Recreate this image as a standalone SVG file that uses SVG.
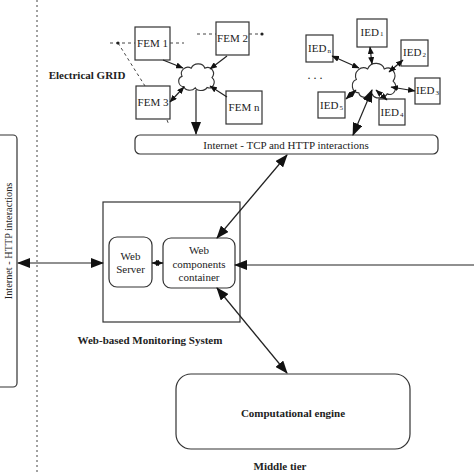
<svg xmlns="http://www.w3.org/2000/svg" xmlns:xlink="http://www.w3.org/1999/xlink" width="474" height="474" viewBox="0 0 474 474" font-family="'Liberation Serif', 'Times New Roman', serif">
<style>
  .box{fill:#fff;stroke:#333;stroke-width:1.2}
  text{font-family:'Liberation Serif','Times New Roman',serif}
  .t{font-size:11px;fill:#222;text-anchor:middle}
  .b{font-weight:bold}
  .ln{stroke:#222;stroke-width:1.2;fill:none}
  .dash{stroke:#444;stroke-width:1;stroke-dasharray:3,3;fill:none}
  .cloud{fill:#fff;stroke:#333}
</style>
<defs>
  <marker id="ah" markerUnits="userSpaceOnUse" markerWidth="14" markerHeight="10" refX="12" refY="5" orient="auto-start-reverse">
    <path d="M0,0 L13,5 L0,10 Z" fill="#111"/>
  </marker>
  <marker id="as" markerUnits="userSpaceOnUse" markerWidth="8" markerHeight="6" refX="7" refY="3" orient="auto-start-reverse">
    <path d="M0,0 L7.5,3 L0,6 Z" fill="#111"/>
  </marker>
  <path id="cl" d="M20,60 C5,60 2,40 15,35 C8,20 25,8 38,15 C45,0 68,2 72,15 C88,8 100,25 90,38 C102,48 92,68 78,62 C72,72 52,72 48,63 C40,72 22,70 20,60 Z"/>
</defs>

<!-- left dotted separator -->
<line x1="37" y1="0" x2="37" y2="474" stroke="#444" stroke-width="1" stroke-dasharray="2,3"/>

<g id="left-internet">
  <rect class="box" x="-6" y="135" width="23" height="252" rx="4"/>
  <text class="t" style="font-size:10.3px" transform="translate(12,241) rotate(-90)">Internet - HTTP interactions</text>
</g>

<g id="electrical-grid-label">
  <text class="t b" x="87" y="79">Electrical GRID</text>
</g>

<g id="cloud-fem">
  <use href="#cl" xlink:href="#cl" class="cloud" transform="translate(176,62) scale(0.4,0.41)" style="stroke-width:2.8"/>
</g>
<g id="cloud-ied">
  <use href="#cl" xlink:href="#cl" class="cloud" transform="translate(349,61) scale(0.49,0.53)" style="stroke-width:2.3"/>
</g>

<g id="fem1"><rect class="box" x="135" y="27" width="35" height="33"/><text class="t" x="152.5" y="47">FEM 1</text></g>
<g id="fem2"><rect class="box" x="216" y="22" width="33" height="33"/><text class="t" x="232.5" y="42">FEM 2</text></g>
<g id="fem3"><rect class="box" x="136" y="86" width="34" height="33"/><text class="t" x="153" y="106">FEM 3</text></g>
<g id="femn"><rect class="box" x="226" y="91" width="36" height="33"/><text class="t" x="244" y="111">FEM n</text></g>

<g id="ied1"><rect class="box" x="357" y="19" width="30" height="28"/><text class="t" x="372" y="36">IED<tspan font-size="7" dx="1">1</tspan></text></g>
<g id="ied2"><rect class="box" x="401" y="40" width="27" height="26"/><text class="t" x="414.5" y="56">IED<tspan font-size="7" dx="1" dy="1">2</tspan></text></g>
<g id="iedn"><rect class="box" x="306" y="35" width="27" height="27"/><text class="t" x="319.5" y="52">IED<tspan font-size="7" dx="1" dy="1">n</tspan></text></g>
<g id="ied3"><rect class="box" x="415" y="78" width="25" height="26"/><text class="t" x="427.5" y="94">IED<tspan font-size="7" dx="1" dy="1">3</tspan></text></g>
<g id="ied4"><rect class="box" x="379" y="99" width="26" height="26"/><text class="t" x="392" y="116">IED<tspan font-size="7" dx="1" dy="1">4</tspan></text></g>
<g id="ied5"><rect class="box" x="318" y="92" width="27" height="26"/><text class="t" x="331.5" y="109">IED<tspan font-size="7" dx="1" dy="1">5</tspan></text></g>
<g id="dots"><text class="t" x="315" y="79" style="font-size:12px">. . .</text></g>

<g id="internet-tcp">
  <rect class="box" x="135" y="135" width="303" height="19" rx="5"/>
  <text class="t" x="286" y="149">Internet - TCP and HTTP interactions</text>
</g>

<g id="wbms">
  <rect class="box" x="103" y="202" width="137" height="120"/>
  <text class="t b" x="150" y="344">Web-based Monitoring System</text>
</g>
<g id="web-server">
  <rect class="box" x="109" y="237" width="43" height="50" rx="8"/>
  <text class="t" x="130.5" y="260">Web</text>
  <text class="t" x="130.5" y="273">Server</text>
</g>
<g id="web-container">
  <rect class="box" x="163" y="238" width="72" height="50" rx="8"/>
  <text class="t" x="199" y="254">Web</text>
  <text class="t" x="199" y="268">components</text>
  <text class="t" x="199" y="281">container</text>
</g>

<g id="computational-engine">
  <rect class="box" x="176" y="374" width="234" height="75" rx="15"/>
  <text class="t b" x="293" y="417">Computational engine</text>
</g>
<g id="middle-tier-label">
  <text class="t b" x="280" y="470">Middle tier</text>
</g>

<g id="connectors">
  <!-- dashed grid lines -->
  <line class="dash" x1="110" y1="43" x2="135" y2="43"/>
  <line class="dash" x1="170" y1="43" x2="184" y2="43"/>
  <line class="dash" x1="118" y1="43" x2="145" y2="86"/>
  <circle cx="118" cy="43" r="1.6" fill="#222"/>
  <line class="dash" x1="167" y1="120" x2="169" y2="125"/>
  <line class="dash" x1="197" y1="34" x2="216" y2="34"/>
  <line class="dash" x1="249" y1="34" x2="262" y2="34"/>
  <circle cx="262" cy="34" r="1.6" fill="#222"/>

  <!-- FEM to cloud -->
  <line class="ln" x1="163" y1="60" x2="183" y2="68" marker-end="url(#as)"/>
  <line class="ln" x1="227" y1="56" x2="210" y2="69" marker-end="url(#as)"/>
  <line class="ln" x1="170" y1="102" x2="184" y2="87" marker-start="url(#as)" marker-end="url(#as)"/>
  <line class="ln" x1="227" y1="97" x2="210" y2="86" marker-end="url(#as)"/>
  <line class="ln" x1="196" y1="90" x2="196" y2="134" marker-end="url(#ah)"/>

  <!-- IED to cloud -->
  <line class="ln" x1="332" y1="56" x2="359" y2="68" marker-start="url(#as)" marker-end="url(#as)"/>
  <line class="ln" x1="370" y1="47" x2="372" y2="64" marker-start="url(#as)" marker-end="url(#as)"/>
  <line class="ln" x1="403" y1="60" x2="389" y2="72" marker-start="url(#as)" marker-end="url(#as)"/>
  <line class="ln" x1="391" y1="87" x2="415" y2="91" marker-start="url(#as)" marker-end="url(#as)"/>
  <line class="ln" x1="376" y1="90" x2="387" y2="100" marker-start="url(#as)" marker-end="url(#as)"/>
  <line class="ln" x1="346" y1="99" x2="356" y2="90" marker-start="url(#as)" marker-end="url(#as)"/>
  <line class="ln" x1="372" y1="90" x2="353" y2="135" marker-start="url(#ah)" marker-end="url(#ah)"/>

  <!-- main flows -->
  <line class="ln" x1="18" y1="263" x2="103" y2="263" marker-start="url(#ah)" marker-end="url(#ah)"/>
  <line class="ln" x1="152" y1="263" x2="163" y2="263" marker-start="url(#as)" marker-end="url(#as)"/>
  <line class="ln" x1="474" y1="265" x2="235" y2="265" marker-end="url(#ah)"/>
  <line class="ln" x1="217" y1="238" x2="287" y2="155" marker-start="url(#ah)" marker-end="url(#ah)"/>
  <line class="ln" x1="217" y1="288" x2="287" y2="373" marker-start="url(#ah)" marker-end="url(#ah)"/>
</g>
</svg>
